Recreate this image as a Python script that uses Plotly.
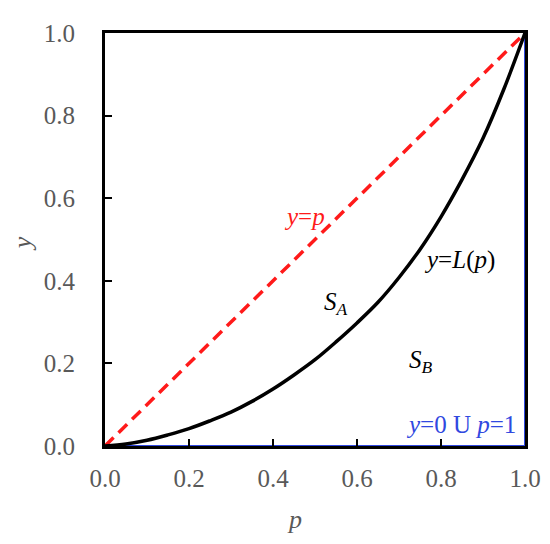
"""Lorenz curve: y=L(p) against the equality line y=p, with the S_A / S_B areas."""
import plotly.graph_objects as go

p_vals = [0.0, 0.05, 0.10, 0.15, 0.20, 0.25, 0.30, 0.35, 0.40, 0.45, 0.50,
          0.55, 0.60, 0.65, 0.70, 0.75, 0.80, 0.85, 0.90, 0.95, 1.0]
lorenz_vals = [0.0, 0.005, 0.014, 0.027, 0.042, 0.061, 0.082, 0.108, 0.138, 0.172, 0.209,
               0.252, 0.298, 0.348, 0.408, 0.476, 0.555, 0.645, 0.745, 0.865, 1.0]
diag_p = [0.0, 1.0]
diag_y = [0.0, 1.0]
edge_p = [0.0, 1.0, 1.0]
edge_y = [0.0, 0.0, 1.0]
tick_vals = [0.0, 0.2, 0.4, 0.6, 0.8, 1.0]
tick_text = ["0.0", "0.2", "0.4", "0.6", "0.8", "1.0"]

FONT = "Liberation Serif, Times New Roman, serif"
GRAY = "#595959"
RED = "#ff1a1a"
BLUE = "#3048e0"

fig = go.Figure()

# y=0 U p=1 edge
fig.add_trace(go.Scatter(
    x=edge_p, y=edge_y, mode="lines",
    line=dict(color=BLUE, width=2),
    cliponaxis=False, hoverinfo="skip",
))
# y=p
fig.add_trace(go.Scatter(
    x=diag_p, y=diag_y, mode="lines",
    line=dict(color=RED, width=3.5, dash="12px,7px"),
    cliponaxis=False, hoverinfo="skip",
))
# y=L(p)
fig.add_trace(go.Scatter(
    x=p_vals, y=lorenz_vals, mode="lines",
    line=dict(color="black", width=3.5, shape="spline", smoothing=1),
    cliponaxis=False, hoverinfo="skip",
))

labels = [
    (0.476, 0.556, "<i>y</i>=<i>p</i>", RED),
    (0.845, 0.451, "<i>y</i>=<i>L</i>(<i>p</i>)", "black"),
    (0.550, 0.345, "<i>S<sub>A</sub></i>", "black"),
    (0.752, 0.205, "<i>S<sub>B</sub></i>", "black"),
    (0.848, 0.052, "<i>y</i>=0 U <i>p</i>=1", BLUE),
]
for lx, ly, txt, col in labels:
    fig.add_annotation(x=lx, y=ly, xref="x", yref="y", text=txt, showarrow=False,
                       xanchor="center", yanchor="middle",
                       font=dict(family=FONT, size=25, color=col))

# axis titles
fig.add_annotation(x=0.452, y=-0.177, xref="x", yref="paper", text="<i>p</i>",
                   xanchor="center", yanchor="middle", showarrow=False,
                   font=dict(family=FONT, size=26, color=GRAY))
fig.add_annotation(x=-0.196, y=0.49, xref="paper", yref="y", text="<i>y</i>",
                   xanchor="center", yanchor="middle", textangle=-90, showarrow=False,
                   font=dict(family=FONT, size=26, color=GRAY))

axis_common = dict(
    range=[0, 1], tickvals=tick_vals, ticktext=tick_text,
    showgrid=False, zeroline=False,
    showline=True, linecolor="black", linewidth=3, mirror=True,
    ticks="inside", ticklen=7, tickwidth=2, tickcolor="black",
    tickfont=dict(family=FONT, size=25, color=GRAY),
)

fig.update_layout(
    width=550, height=544,
    margin=dict(l=97, r=33, t=15, b=106),
    paper_bgcolor="white", plot_bgcolor="white",
    showlegend=False,
    xaxis=dict(**axis_common, ticklabelstandoff=8),
    yaxis=dict(**axis_common, ticklabelstandoff=22),
)

fig.write_html("out.html")
